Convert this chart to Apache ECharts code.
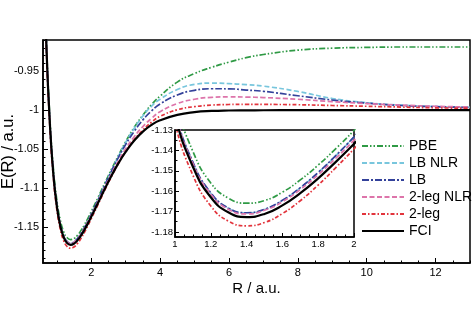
<!DOCTYPE html>
<html><head><meta charset="utf-8">
<script src="https://cdn.jsdelivr.net/npm/echarts@6/dist/echarts.min.js"></script>
<style>html,body{margin:0;padding:0;background:#fff}#c{width:474px;height:335px}</style>
</head><body><div id="c"></div>
<script>
const R = [0.6,0.7,0.8,0.9,1.0,1.1,1.2,1.3,1.4,1.5,1.6,1.7,1.8,1.9,2.0,2.2,2.4,2.6,2.8,3.0,3.25,3.5,3.75,4.0,4.5,5.0,5.5,6.0,6.5,7.0,8.0,9.0,10,11,12,13];
const PBE = [-0.762,-0.913,-1.010,-1.074,-1.1148,-1.1405,-1.156,-1.1635,-1.1659,-1.1646,-1.1605,-1.1545,-1.1472,-1.1390,-1.1302,-1.1118,-1.0930,-1.0747,-1.0573,-1.0405,-1.0220,-1.0065,-0.9930,-0.9820,-0.9640,-0.9530,-0.9450,-0.9384,-0.9327,-0.9286,-0.9230,-0.9205,-0.9195,-0.919,-0.919,-0.919];
const LB_NLR = [-0.766,-0.918,-1.016,-1.080,-1.1208,-1.146,-1.161,-1.1685,-1.1707,-1.1690,-1.1646,-1.1584,-1.1509,-1.1425,-1.1335,-1.1148,-1.0955,-1.0767,-1.0583,-1.0415,-1.0230,-1.0075,-0.9950,-0.9860,-0.9735,-0.9670,-0.9653,-0.9659,-0.9672,-0.9691,-0.9760,-0.9850,-0.9905,-0.9935,-0.9955,-0.9965];
const LB = [-0.766,-0.918,-1.016,-1.080,-1.1208,-1.1458,-1.1608,-1.1684,-1.1706,-1.1689,-1.1645,-1.1583,-1.1508,-1.1424,-1.1334,-1.1148,-1.0957,-1.0772,-1.0598,-1.0440,-1.0270,-1.0125,-1.0010,-0.9920,-0.9805,-0.9745,-0.9725,-0.9726,-0.9742,-0.9758,-0.9815,-0.9870,-0.9910,-0.9940,-0.9955,-0.9965];
const LEG2_NLR = [-0.7665,-0.9185,-1.0165,-1.0805,-1.1213,-1.1465,-1.1615,-1.1690,-1.1712,-1.1694,-1.1652,-1.1592,-1.1519,-1.1437,-1.1350,-1.1168,-1.0982,-1.0805,-1.0643,-1.0495,-1.0340,-1.0210,-1.0105,-1.0020,-0.9915,-0.9860,-0.9835,-0.9829,-0.9832,-0.9838,-0.9860,-0.9890,-0.9915,-0.9935,-0.9950,-0.9960];
const LEG2 = [-0.771,-0.923,-1.0215,-1.086,-1.1268,-1.1522,-1.1673,-1.1748,-1.1770,-1.1754,-1.1710,-1.1647,-1.1570,-1.1483,-1.1393,-1.1208,-1.1020,-1.0842,-1.0678,-1.0532,-1.0380,-1.0255,-1.0155,-1.0080,-0.9995,-0.9955,-0.9935,-0.9927,-0.9925,-0.9926,-0.9930,-0.9940,-0.9950,-0.9960,-0.9970,-0.9975];
const FCI = [-0.768,-0.920,-1.018,-1.082,-1.1228,-1.148,-1.163,-1.1705,-1.1727,-1.1712,-1.1670,-1.1610,-1.1537,-1.1455,-1.1368,-1.1188,-1.1005,-1.0832,-1.0673,-1.0535,-1.0390,-1.0275,-1.0190,-1.0130,-1.0060,-1.0025,-1.0010,-1.0004,-1.0002,-1.0001,-1.0,-1.0,-1.0,-1.0,-1.0,-1.0];

const names = ['PBE','LB NLR','LB','2-leg NLR','2-leg','FCI'];
const xTicks = [2,4,6,8,10,12];
const yTicks = [-1.15,-1.1,-1.05,-1,-0.95];
const insetXTicks = [1,1.2,1.4,1.6,1.8,2];
const insetYTicks = [-1.18,-1.17,-1.16,-1.15,-1.14,-1.13];

function steps(a,b,s){const o=[];for(let i=0;a+i*s<=b+1e-9;i++)o.push(+(a+i*s).toFixed(4));return o;}
const xMinor = steps(1,13,0.5);
const yMinor = steps(-1.19,-0.91,0.01);
const ixMinor = steps(1,2,0.05);
const iyMinor = steps(-1.18,-1.13,0.005);

const FONT = 'Liberation Sans, Arial, Helvetica, sans-serif';
const vals = [PBE, LB_NLR, LB, LEG2_NLR, LEG2, FCI];
const styles = [
  {color:'#2f9a45', type:[6,2,1.5,2,1.5,2], width:1.7},
  {color:'#78c6dd', type:[5,2.5], width:1.7},
  {color:'#33419a', type:[7,2,2,2], width:1.7},
  {color:'#dd74aa', type:[5,2.5], width:1.7},
  {color:'#e2343c', type:[4,2,1.5,2], width:1.7},
  {color:'#000000', type:'solid', width:2.2}
];

const series = [];
[0,1].forEach(g=>{
  names.forEach((n,i)=>{
    series.push({
      name:n, type:'line', xAxisIndex: g*2, yAxisIndex: g*2,
      data: R.map((r,k)=>[r, vals[i][k]]),
      symbol:'none', smooth:0.5, clip:true,
      lineStyle:{color:styles[i].color, type:styles[i].type, width:styles[i].width},
      itemStyle:{color:styles[i].color},
      z: g===1 ? 10 : 2,
      silent:true, animation:false
    });
  });
});

function majorAxis(o){
  return Object.assign({
    type:'value', splitLine:{show:false},
    axisLine:{show:true, onZero:false, lineStyle:{color:'#000', width:1.5}},
  }, o);
}

const option = {
  animation:false,
  backgroundColor:'#fff',
  textStyle:{fontFamily:FONT},
  grid:[
    {left:43, top:40, right:4, bottom:72, show:true, borderColor:'#000', borderWidth:1.5, backgroundColor:'transparent', containLabel:false, outerBoundsMode:'none'},
    {left:175, top:130, right:120, bottom:98, show:true, borderColor:'#000', borderWidth:1.5, backgroundColor:'#fff', z:5, containLabel:false, outerBoundsMode:'none'}
  ],
  legend:{
    data:names, orient:'vertical', left:361, top:139, padding:0,
    itemWidth:42, itemHeight:14, itemGap:3,
    itemStyle:{opacity:0},
    textStyle:{fontSize:14, color:'#000', fontFamily:FONT, lineHeight:14}
  },
  xAxis:[
    majorAxis({gridIndex:0, min:0.6, max:13, position:'bottom',
      axisTick:{inside:true, length:5, customValues:xTicks, lineStyle:{color:'#000', width:1}},
      axisLabel:{customValues:xTicks, color:'#000', fontSize:11, margin:4, fontFamily:FONT},
      name:'R / a.u.', nameLocation:'middle', nameGap:18, nameMoveOverlap:false,
      nameTextStyle:{fontSize:15, color:'#000', fontFamily:FONT}}),
    {type:'value', gridIndex:0, min:0.6, max:13, position:'bottom', splitLine:{show:false},
      axisLine:{show:false}, axisLabel:{show:false},
      axisTick:{inside:true, length:2.5, customValues:xMinor, lineStyle:{color:'#000', width:1}}},
    majorAxis({gridIndex:1, min:1, max:2, position:'bottom', z:6,
      axisTick:{inside:true, length:4, customValues:insetXTicks, lineStyle:{color:'#000', width:1}},
      axisLabel:{customValues:insetXTicks, color:'#000', fontSize:9.5, margin:2, fontFamily:FONT}}),
    {type:'value', gridIndex:1, min:1, max:2, position:'bottom', splitLine:{show:false}, z:6,
      axisLine:{show:false}, axisLabel:{show:false},
      axisTick:{inside:true, length:2.5, customValues:ixMinor, lineStyle:{color:'#000', width:1}}}
  ],
  yAxis:[
    majorAxis({gridIndex:0, min:-1.196, max:-0.91, position:'left',
      axisTick:{inside:true, length:5, customValues:yTicks, lineStyle:{color:'#000', width:1}},
      axisLabel:{customValues:yTicks, color:'#000', fontSize:11, margin:4, fontFamily:FONT},
      name:'E(R) / a.u.', nameLocation:'middle', nameGap:26, nameRotate:90, nameMoveOverlap:false,
      nameTextStyle:{fontSize:16.5, color:'#000', fontFamily:FONT}}),
    {type:'value', gridIndex:0, min:-1.196, max:-0.91, position:'left', splitLine:{show:false},
      axisLine:{show:false}, axisLabel:{show:false},
      axisTick:{inside:true, length:2.5, customValues:yMinor, lineStyle:{color:'#000', width:1}}},
    majorAxis({gridIndex:1, min:-1.1825, max:-1.13, position:'left', z:6,
      axisTick:{inside:true, length:4, customValues:insetYTicks, lineStyle:{color:'#000', width:1}},
      axisLabel:{customValues:insetYTicks, color:'#000', fontSize:9.5, margin:2, fontFamily:FONT}}),
    {type:'value', gridIndex:1, min:-1.1825, max:-1.13, position:'left', splitLine:{show:false}, z:6,
      axisLine:{show:false}, axisLabel:{show:false},
      axisTick:{inside:true, length:2.5, customValues:iyMinor, lineStyle:{color:'#000', width:1}}}
  ],
  series: series
};
const chart = echarts.init(document.getElementById('c'), null, {renderer:'canvas'});
chart.setOption(option);
</script>
</body></html>
